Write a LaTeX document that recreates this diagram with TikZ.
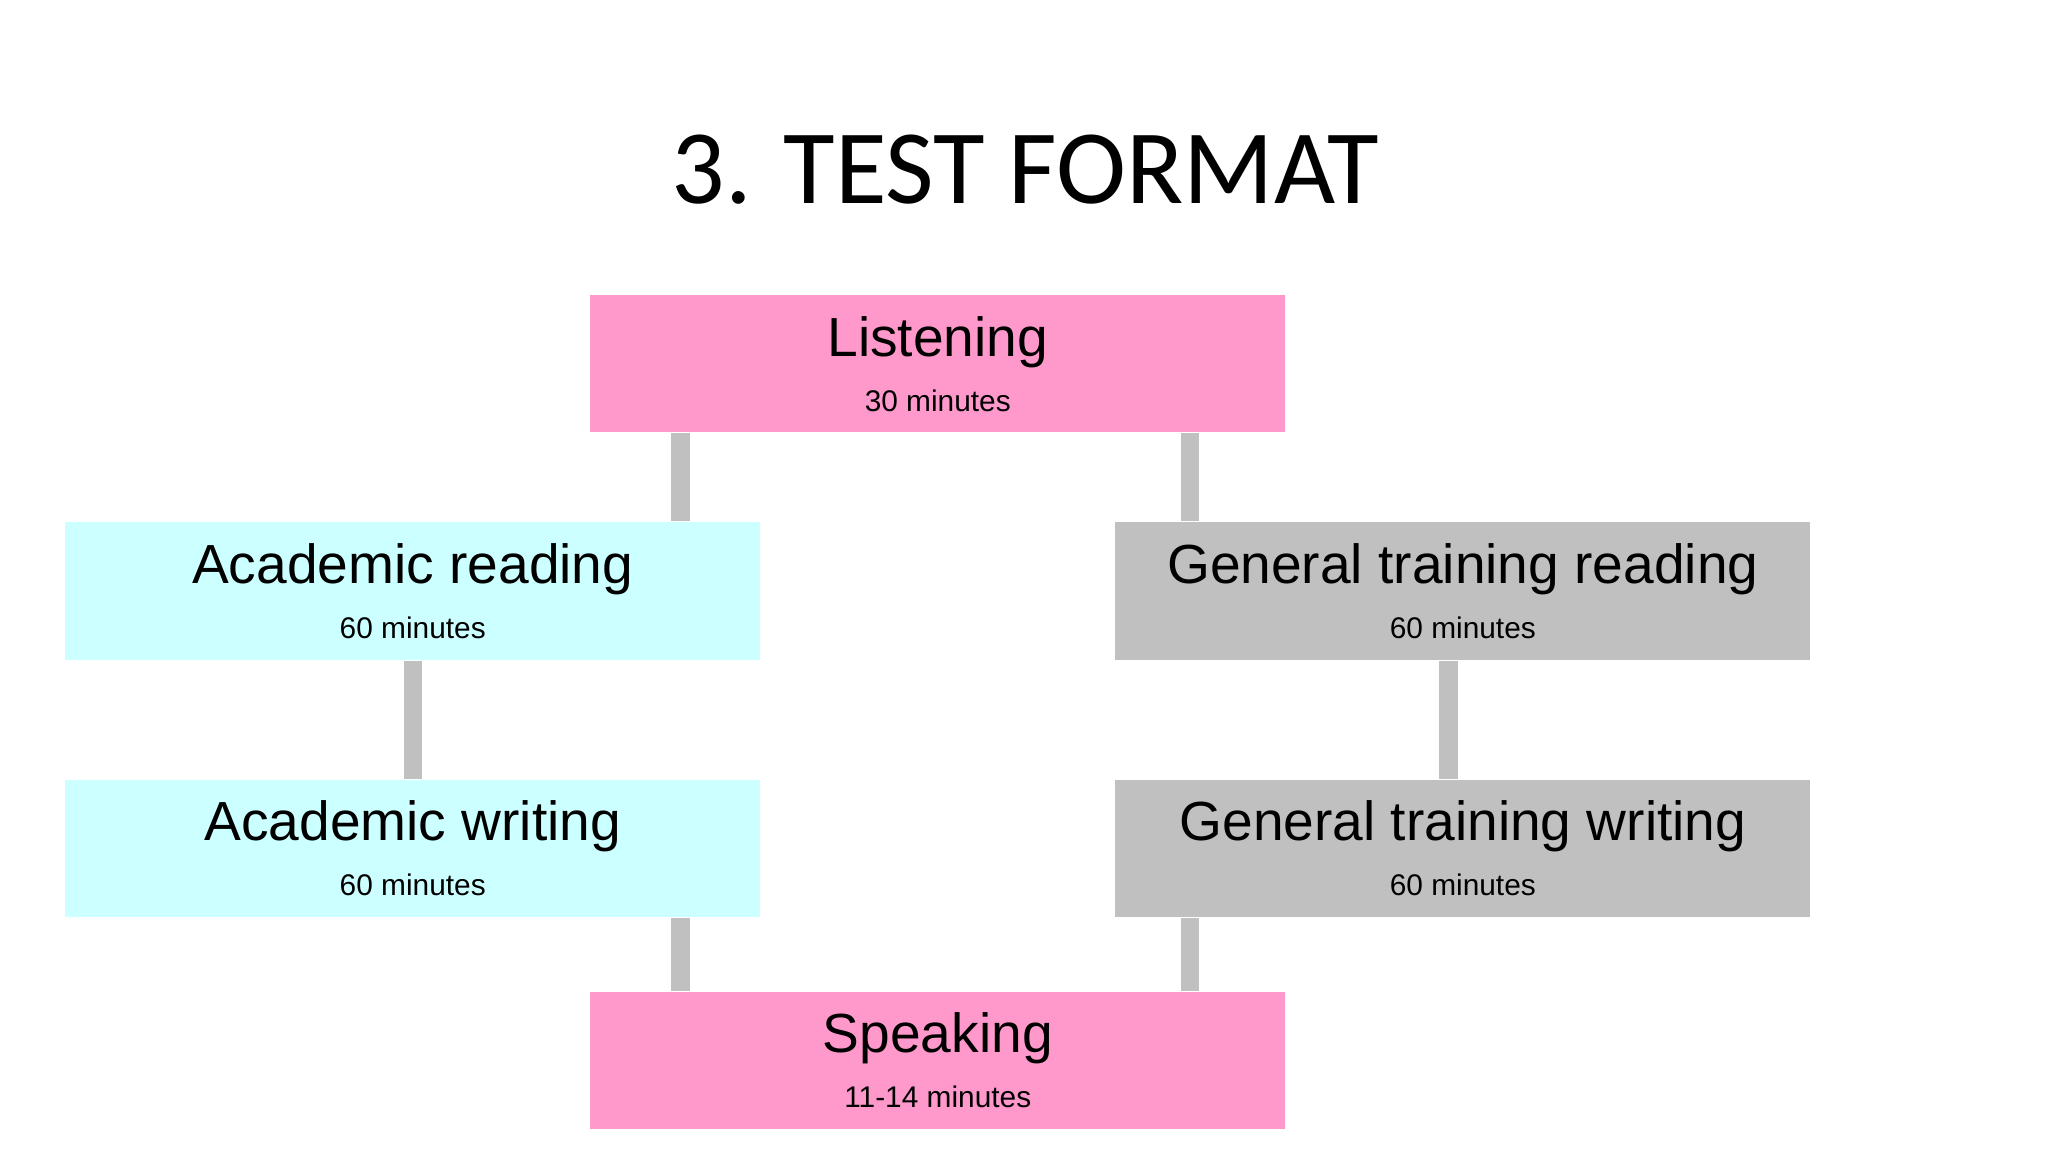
\documentclass[tikz,border=0pt]{standalone}
\usepackage{fontspec}
\setmainfont{Liberation Sans}
\newfontfamily\titlefont{Carlito}
\usetikzlibrary{calc}
\definecolor{pinkbox}{HTML}{FF99CC}
\definecolor{cyanbox}{HTML}{CCFFFF}
\definecolor{graybox}{HTML}{C0C0C0}
\tikzset{
  box/.style={draw=none, minimum width=5.32cm, minimum height=1.05cm, inner sep=0pt, align=center,
    font=\fontsize{12}{13}\selectfont},
  link/.style={draw=graybox, line width=4pt}
}
\newcommand{\sub}[1]{\\[-1pt]{\fontsize{6.5}{7}\selectfont #1}}
\begin{document}
\begin{tikzpicture}[x=0.01cm,y=0.01cm]
\useasboundingbox (0,0) rectangle (1568,882);
\fill[white] (0,0) rectangle (1568,882);
\node[font=\titlefont\fontsize{23}{26}\selectfont] (title) at (785,752) {3. TEST FORMAT};
\coordinate (l1) at (521,551); \coordinate (l2) at (911,551);
\coordinate (r1) at (316,377); \coordinate (r2) at (1109,377);
\coordinate (s1) at (521,180); \coordinate (s2) at (911,180);
\node[box, fill=pinkbox] (lis) at (718,603.5) {Listening\sub{30 minutes}};
\node[box, fill=cyanbox] (ar) at (316,429.5) {Academic reading\sub{60 minutes}};
\node[box, fill=cyanbox] (aw) at (316,232.5) {Academic writing\sub{60 minutes}};
\node[box, fill=graybox] (gr) at (1120,429.5) {General training reading\sub{60 minutes}};
\node[box, fill=graybox] (gw) at (1120,232.5) {General training writing\sub{60 minutes}};
\node[box, fill=pinkbox] (sp) at (718,70) {Speaking\sub{11-14 minutes}};
\begin{scope}[on background layer/.style={}]
\draw[link] (l1 |- lis.south) -- (l1 |- ar.north);
\draw[link] (l2 |- lis.south) -- (l2 |- gr.north);
\draw[link] (r1 |- ar.south) -- (r1 |- aw.north);
\draw[link] (r2 |- gr.south) -- (r2 |- gw.north);
\draw[link] (s1 |- aw.south) -- (s1 |- sp.north);
\draw[link] (s2 |- gw.south) -- (s2 |- sp.north);
\end{scope}
\end{tikzpicture}
\end{document}
